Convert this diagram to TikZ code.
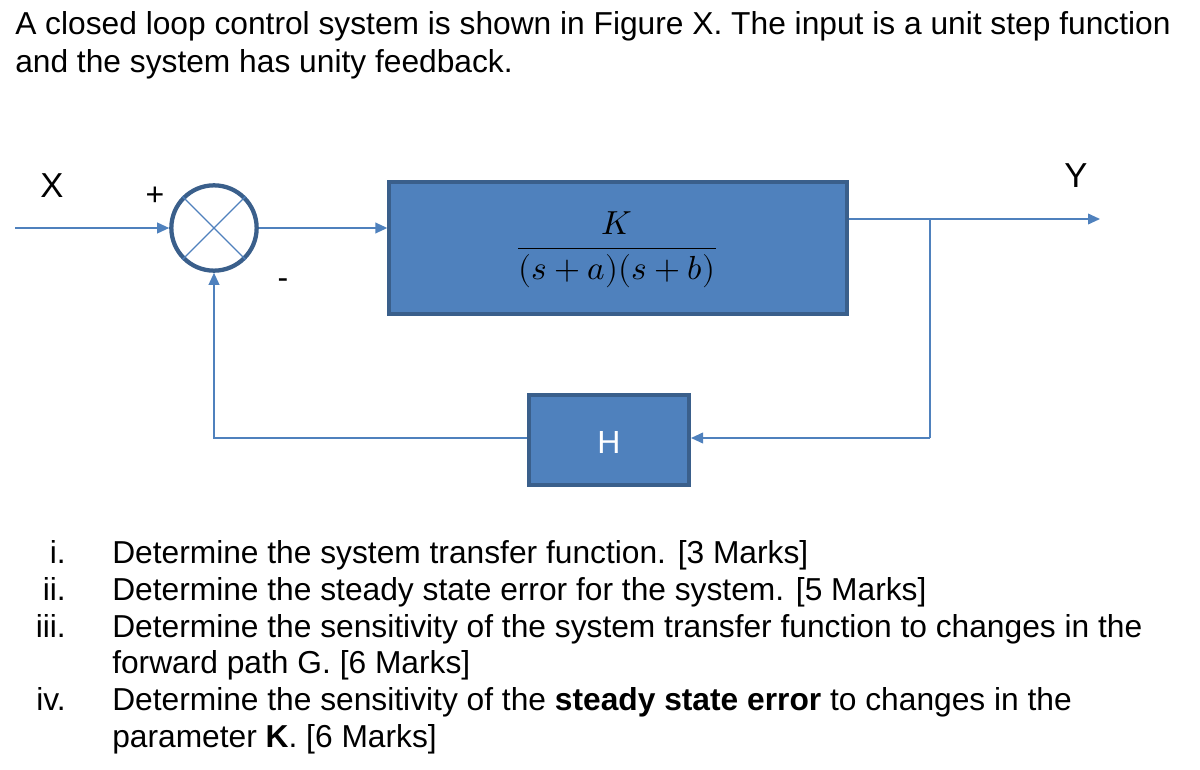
\documentclass[tikz,border=0pt]{standalone}
\usepackage{fontspec}
\setmainfont{Liberation Sans}
\usepackage{unicode-math}
\setmathfont{Latin Modern Math}
\usetikzlibrary{arrows.meta}
\definecolor{lineblue}{HTML}{4F81BD}
\definecolor{edgeblue}{HTML}{3A5F8B}
\begin{document}
\begin{tikzpicture}[x=0.75pt,y=-0.75pt,
  txt/.style={anchor=base west,inner sep=0,font=\fontsize{23.8}{28}\selectfont},
  blk/.style={draw=edgeblue,line width=3pt,fill=lineblue},
  con/.style={draw=lineblue,line width=1.3pt,-{Triangle[length=9pt,width=8pt]}},
  wire/.style={draw=lineblue,line width=1.3pt}]
\useasboundingbox (0,0) rectangle (1200,770);
\node[txt] (t1) at (15,35) {A closed loop control system is shown in Figure X. The input is a unit step function};
\node[txt] (t2) at (15,73) {and the system has unity feedback.};
\node[draw=edgeblue,line width=3.2pt,fill=white,circle,minimum size=64pt,inner sep=0] (sum) at (214,228) {};
\draw[lineblue,line width=1pt] (sum.45)--(sum.225) (sum.135)--(sum.315);
\node[blk,minimum width=343pt,minimum height=99pt,inner sep=0] (G) at (618,248) {};
\node[text=black,font=\fontsize{25}{28}\selectfont] (Gt) at (617,250) {$\dfrac{K}{(s+a)(s+b)}$};
\node[blk,minimum width=120pt,minimum height=68pt,inner sep=0] (H) at (609,440) {};
\node[text=white,font=\fontsize{24}{24}\selectfont] (Ht) at (609,442) {H};
\coordinate (in) at (15,228);
\coordinate (outE) at (1100,219);
\coordinate (br) at (930,219);
\coordinate (br2) at (930,438);
\coordinate (fb) at (214,438);
\draw[con] (in) -- (sum.west);
\draw[con] (sum.east) -- (G.west|-sum.east);
\draw[con] (G.east|-outE) -- (outE);
\draw[wire] (br) -- (br2);
\draw[con] (br2) -- (H.east|-br2);
\draw[con] (H.west|-br2) -- (fb) -- (sum.south);
\node[font=\fontsize{26}{26}\selectfont] (X) at (52,186) {X};
\node[font=\fontsize{26}{26}\selectfont] (Y) at (1076,176) {Y};
\node[font=\fontsize{24}{24}\selectfont] (plus) at (155,196) {+};
\node[font=\fontsize{24}{24}\selectfont] (minus) at (283,284) {-};
\foreach \n/\r/\y/\t in {a/i./563/{Determine the system transfer function. [3 Marks]},
 b/ii./600/{Determine the steady state error for the system. [5 Marks]},
 c/iii./637/{Determine the sensitivity of the system transfer function to changes in the},
 d/iv./710/{Determine the sensitivity of the \textbf{steady state error} to changes in the}}{
 \node[txt,anchor=base east] (n\n) at (66,\y) {\r};
 \node[txt] (l\n) at (112,\y) {\t};}
\node[txt] (lc2) at (112,673) {forward path G. [6 Marks]};
\node[txt] (ld2) at (112,747) {parameter \textbf{K}. [6 Marks]};
\end{tikzpicture}
\end{document}
